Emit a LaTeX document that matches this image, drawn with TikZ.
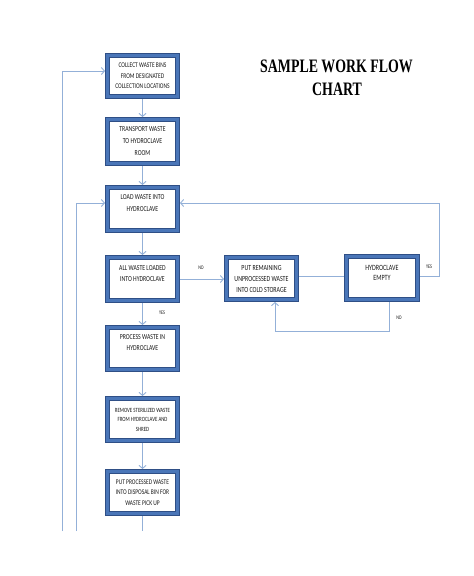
\documentclass[tikz,border=0pt]{standalone}
\usepackage{fontspec}
\usetikzlibrary{arrows.meta}
\newfontfamily\bxfont[FakeStretch=0.76]{Carlito}
\newfontfamily\ttlfont[FakeStretch=0.73]{Liberation Serif}
\definecolor{frameD}{HTML}{2F4F86}
\definecolor{frameB}{HTML}{4A76B8}
\definecolor{connC}{HTML}{93B0D8}
\tikzset{
  box/.style={draw=frameD, double=frameB, double distance=3.4pt, line width=0.8pt,
    fill=white, minimum width=70pt, minimum height=42pt, inner sep=1pt,
    align=center, outer sep=2.5pt, text=black!90},
  conn/.style={draw=connC, line width=0.9pt, -{Straight Barb[length=3pt,width=7pt]}},
  plain/.style={draw=connC, line width=0.9pt},
  lbl/.style={font=\bxfont\fontsize{5.5}{6}\selectfont, text=black!90, inner sep=0pt}
}
\begin{document}
\begin{tikzpicture}[x=1pt,y=-1pt]
\useasboundingbox (0,0) rectangle (474,576);
\fill[white] (0,0) rectangle (474,576);
% title
\node[font=\ttlfont\bfseries\fontsize{19}{23}\selectfont, anchor=base, inner sep=0pt] (t1) at (336.5,72) {SAMPLE WORK FLOW};
\node[font=\ttlfont\bfseries\fontsize{19}{23}\selectfont, anchor=base, inner sep=0pt] (t2) at (337,95) {CHART};
% boxes
\node[box, minimum height=41pt, font=\bxfont\fontsize{7.2}{10.5}\selectfont] (b1) at (142.5,76) {COLLECT WASTE BINS\\FROM DESIGNATED\\COLLECTION LOCATIONS};
\node[box, minimum height=44pt, font=\bxfont\fontsize{7.6}{12}\selectfont] (b2) at (142.5,141.5) {TRANSPORT WASTE\\TO HYDROCLAVE\\ROOM};
\node[box, minimum height=43pt, font=\bxfont\fontsize{7.6}{12}\selectfont] (b3) at (142.5,209) {LOAD WASTE INTO\\HYDROCLAVE\\~};
\node[box, minimum height=43pt, font=\bxfont\fontsize{7.6}{11}\selectfont] (b4) at (142.5,279) {ALL WASTE LOADED\\INTO HYDROCLAVE\\~};
\node[box, minimum height=42pt, font=\bxfont\fontsize{7.6}{11}\selectfont] (b5) at (142.5,348.5) {PROCESS WASTE IN\\HYDROCLAVE\\~};
\node[box, minimum height=42pt, font=\bxfont\fontsize{6.4}{9.5}\selectfont] (b6) at (142.5,419.5) {REMOVE STERILIZED WASTE\\FROM HYDROCLAVE AND\\SHRED};
\node[box, minimum height=42pt, font=\bxfont\fontsize{7.2}{10.5}\selectfont] (b7) at (142.5,492.5) {PUT PROCESSED WASTE\\INTO DISPOSAL BIN FOR\\WASTE PICK UP};
\node[box, minimum height=42pt, font=\bxfont\fontsize{7.8}{11}\selectfont] (r) at (261.5,278.5) {PUT REMAINING\\UNPROCESSED WASTE\\INTO COLD STORAGE};
\node[box, minimum width=71pt, minimum height=43pt, font=\bxfont\fontsize{8}{10}\selectfont] (h) at (382,278) {HYDROCLAVE\\EMPTY\\~};
% coordinates
\coordinate (e7) at (142.5,531);
\coordinate (l1) at (62,531);
\coordinate (l2) at (76,531);
\coordinate (rt) at (439,203);
\coordinate (bt) at (389,331);
% connectors
\draw[conn] (b1) -- (b2);
\draw[conn] (b2) -- (b3);
\draw[conn] (b3) -- (b4);
\draw[conn] (b4) -- (b5);
\draw[conn] (b5) -- (b6);
\draw[conn] (b6) -- (b7);
\draw[plain] (b7) -- (e7);
\draw[conn] (l1) |- ([yshift=5pt]b1.west);
\draw[conn] (l2) |- ([yshift=6pt]b3.west);
\draw[conn] (b4.east) -- (b4.east -| r.west);
\draw[plain] ([yshift=2pt]r.east) -- ([yshift=2pt]r.east -| h.west);
\draw[conn] ([yshift=2pt]h.east) -| (rt) -- (rt -| b3.east);
\draw[conn] ([xshift=7pt]h.south) |- (bt) -| ([xshift=13.5pt]r.south);
% labels
\node[lbl] (no1) at (201,268) {NO};
\node[lbl] (yes1) at (162,313) {YES};
\node[lbl] (yes2) at (429,267) {YES};
\node[lbl] (no2) at (399,318) {NO};
\end{tikzpicture}
\end{document}
